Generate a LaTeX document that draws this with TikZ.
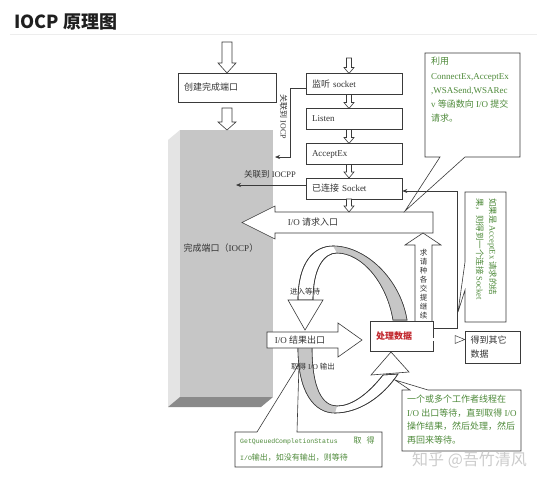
\documentclass[tikz,border=0pt]{standalone}
\usepackage{fontspec}
\setmainfont{Liberation Serif}
\setmonofont{Liberation Mono}
\newfontfamily\cjk{Noto Sans CJK SC}
\usetikzlibrary{arrows.meta}
\definecolor{gface}{HTML}{C6C6C6}
\definecolor{gside}{HTML}{E4E4E4}
\definecolor{gbot}{HTML}{8A8A8A}
\definecolor{txt}{HTML}{333333}
\definecolor{lineg}{HTML}{3A3A3A}
\definecolor{notegreen}{HTML}{4E8A3A}
\definecolor{procred}{HTML}{C1272D}
\newcommand\zh[1]{{\cjk #1}}
\newcommand\hdn[6]{\filldraw[harr] ({#1-#5},#2) -- ({#1-#5},{#3-#4}) -- ({#1-#6},{#3-#4}) -- (#1,#3) -- ({#1+#6},{#3-#4}) -- ({#1+#5},{#3-#4}) -- ({#1+#5},#2) -- cycle;}
\begin{document}
\begin{tikzpicture}[x=1pt,y=-1pt,
  every node/.style={font=\fontsize{9}{11}\selectfont, text=txt},
  box/.style={draw=lineg, fill=white, line width=0.6pt, inner xsep=6pt, inner ysep=0pt, align=left},
  harr/.style={draw=lineg, fill=white, line width=0.6pt, line join=miter},
  conn/.style={draw=lineg, line width=0.6pt},
  tipa/.style={-{Stealth[length=5pt,width=4pt]}},
  note/.style={draw=lineg, line width=0.6pt}]
\useasboundingbox (0,0) rectangle (547,482);
\fill[white] (0,0) rectangle (547,482);
\node[anchor=west, font=\cjk\bfseries\fontsize{18}{20}\selectfont, text=black!88, inner sep=0] (title) at (14,22) {IOCP 原理图};
\draw[black!7, line width=1pt] (10,34) -- (537,34);

% completion port block
\fill[gside] (168,140) -- (180,130) -- (180,397) -- (168,407) -- cycle;
\fill[gface] (180,130) rectangle (273,397);
\fill[gbot] (168,407) -- (180,397) -- (273,397) -- (261,407) -- cycle;
\node (cport) at (221,248) {\zh{完成端口（}IOCP\zh{）}};

% left column
\hdn{227}{42}{73}{10}{5}{9}
\node[box, text width=86pt, minimum height=29pt] (create) at (227,87.5) {\zh{创建完成端口}};
\hdn{227}{108}{130}{8}{5}{9}

% right column
\hdn{349}{58}{73.5}{6}{2.5}{5}
\node[box, text width=84pt, minimum height=21pt] (mon) at (354,84) {\zh{监听} socket};
\hdn{349}{94.5}{108.5}{6}{2.5}{5}
\node[box, text width=84pt, minimum height=21pt] (listen) at (354,119) {Listen};
\hdn{349}{129.5}{143.5}{6}{2.5}{5}
\node[box, text width=84pt, minimum height=21pt] (accept) at (354,154) {AcceptEx};
\hdn{349}{164.5}{178}{6}{2.5}{5}
\node[box, text width=84pt, minimum height=21pt] (sock) at (354,188.5) {\zh{已连接} Socket};

% associations
\coordinate (j1) at (275,157);
\draw[conn, tipa] ([yshift=-4pt]mon.west) -| (290,157) -- (j1);
\node[rotate=-90, font=\fontsize{8}{9}\selectfont, inner sep=0] (lab1) at (283.5,117) {\zh{关联到} IOCP};
\coordinate (j2) at (236,185);
\draw[conn, tipa] ([yshift=3.5pt]sock.west) -- (j2);
\node[font=\fontsize{8.5}{10}\selectfont, inner sep=0] (lab2) at (270,174) {\zh{关联到} IOCPP};

% I/O request entry
\filldraw[harr] (433,212) -- (275,212) -- (275,206) -- (242,222.5) -- (275,239) -- (275,233) -- (433,233) -- cycle;
\node (ioin) at (313,222.5) {I/O \zh{请求入口}};
\hdn{349}{199}{212}{6}{2.5}{5}

% upward arrow
\filldraw[harr] (415,321) -- (415,245) -- (405,245) -- (423,233) -- (441,245) -- (432,245) -- (432,321);
\node[font=\cjk\fontsize{7.5}{9}\selectfont, align=center, inner sep=0] (cont) at (423.5,284) {求\\请\\种\\各\\交\\提\\继\\续};

% upper band
\filldraw[harr] (298,300) .. controls (298,262) and (314,246) .. (333,246) .. controls (365,246) and (400,278) .. (407,320) -- (393,320) .. controls (387,283) and (362,253) .. (337,253) .. controls (324,253) and (313,268) .. (313,300) -- cycle;
\fill[gface] (333,246) .. controls (365,246) and (400,278) .. (407,320) -- (393,320) .. controls (387,283) and (362,253) .. (337,253) -- cycle;
\draw[conn] (298,300) .. controls (298,262) and (314,246) .. (333,246) .. controls (365,246) and (400,278) .. (407,320) -- (393,320) .. controls (387,283) and (362,253) .. (337,253) .. controls (324,253) and (313,268) .. (313,300);
\filldraw[harr] (288,300) -- (323,300) -- (305,330) -- cycle;
\node[font=\cjk\fontsize{7.5}{9}\selectfont] (wait) at (305,292) {进入等待};

% lower band
\filldraw[harr] (298,348) .. controls (298,392) and (314,413) .. (335,413) .. controls (358,413) and (382,398) .. (398,374) -- (383,375) .. controls (368,394) and (352,406) .. (337,406) .. controls (322,406) and (312,388) .. (312,348) -- cycle;
\fill[gface] (298,348) .. controls (298,392) and (314,413) .. (335,413) -- (337,406) .. controls (322,406) and (312,388) .. (312,348) -- cycle;
\draw[conn] (298,348) .. controls (298,392) and (314,413) .. (335,413) .. controls (358,413) and (382,398) .. (398,374) -- (383,375) .. controls (368,394) and (352,406) .. (337,406) .. controls (322,406) and (312,388) .. (312,348);
\filldraw[harr] (371,375) -- (391,352) -- (409,372) -- cycle;
\node[font=\fontsize{7.5}{9}\selectfont] (getio) at (313,367) {\zh{取得} I/O \zh{输出}};

% I/O result exit
\filldraw[harr] (267,332) -- (338,332) -- (338,323) -- (362,340) -- (338,357) -- (338,348) -- (267,348) -- cycle;
\node (ioout) at (300,340) {I/O \zh{结果出口}};

% process
\node[box, text width=51pt, minimum height=30pt] (proc) at (401.5,336) {\textcolor{procred}{\cjk\bfseries 处理数据}};
\draw[conn, tipa] ([yshift=8pt]proc.east) -| (457,191) -- ([yshift=-2.5pt]sock.east);
\node[box, text width=44pt, inner xsep=5.5pt, minimum height=32pt, font=\cjk\fontsize{9}{14}\selectfont] (other) at (492.5,347) {得到其它\\数据};
\draw[lineg, line width=0.5pt, double=white, double distance=2.5pt] ([yshift=-3.5pt]proc.east) -- (455,339.5);
\filldraw[harr, line width=0.5pt] (455,335.5) -- (other.west |- 0,339.5) -- (455,343.5) -- cycle;

% callouts
\draw[note] (425,53) -- (520,53) -- (520,157) -- (465,157) -- (405,211) -- (440,157) -- (425,157) -- cycle;
\node[anchor=north west, align=left, inner sep=0, text=notegreen, font=\fontsize{9}{14.3}\selectfont] (note1) at (431,57) {\zh{利用}\\ConnectEx,AcceptEx\\,WSASend,WSARec\\v \zh{等函数向} I/O \zh{提交}\\\zh{请求。}};

\draw[note] (465,192) -- (506,192) -- (506,322) -- (465,322) -- (465,290) -- (458,312) -- (465,262) -- cycle;
\node[rotate=-90, anchor=north west, align=left, inner sep=0, text=notegreen, font=\fontsize{8.5}{13}\selectfont] (note2) at (497,198) {\zh{如果是} AcceptEx \zh{请求的结}\\\zh{果，则得到一个连接} Socket};

\draw[note] (402,390) -- (410,390) -- (395,380) -- (428,390) -- (521,390) -- (521,451) -- (402,451) -- cycle;
\node[anchor=north west, align=left, inner sep=0, text=notegreen, font=\fontsize{9}{13.5}\selectfont] (note3) at (407,395) {\zh{一个或多个工作者线程在}\\I/O \zh{出口等待，直到取得} I/O\\\zh{操作结果，然后处理，然后}\\\zh{再回来等待。}};

\draw[note] (235,432) -- (257,432) -- (299,364) -- (297,432) -- (382,432) -- (382,467) -- (235,467) -- cycle;
\node[anchor=north west, align=left, inner sep=0, text=notegreen, font=\fontsize{8}{17}\selectfont] (note4) at (240,437) {{\ttfamily\fontsize{6.5}{17}\selectfont GetQueuedCompletionStatus}\hspace{16pt}\zh{取\hspace{5pt}得}\\{\ttfamily\fontsize{6.5}{17}\selectfont I/O}\zh{输出，如没有输出，则等待}};

\node[font=\cjk\fontsize{16}{18}\selectfont, text=black!20, anchor=west, inner sep=0] (wm) at (412,460) {知乎 @吾竹清风};
\end{tikzpicture}
\end{document}
